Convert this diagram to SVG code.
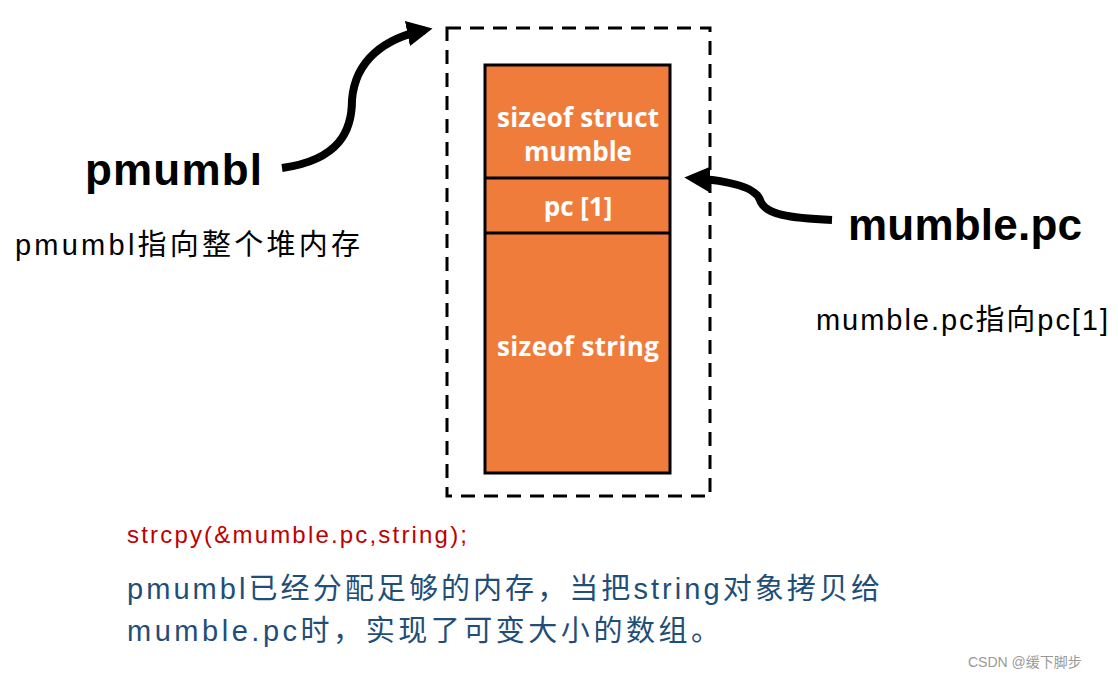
<svg xmlns="http://www.w3.org/2000/svg" width="1118" height="678" viewBox="0 0 1118 678">
<style>
.big{font-family:"Liberation Sans",Arial,sans-serif;font-weight:bold;font-size:44px;fill:#000}
.cell{font-family:"Open Sans","Liberation Sans",sans-serif;font-weight:bold;font-size:26px;fill:#fff;text-anchor:middle}
.cap{font-family:"Liberation Sans","Noto Sans CJK SC",sans-serif;font-size:29px;fill:#000}
.blue{font-family:"Liberation Sans","Noto Sans CJK SC",sans-serif;font-size:29px;fill:#1f4e79}
</style>
<defs><marker id="ah" viewBox="0 0 10 10" refX="7" refY="5" markerWidth="3.2" markerHeight="3.2" orient="auto" markerUnits="strokeWidth"><path d="M0,0L10,5L0,10z" fill="#000"/></marker></defs>
<rect width="1118" height="678" fill="#fff"/>
<g id="frame"><rect x="447" y="28" width="263" height="468" fill="none" stroke="#000" stroke-width="3" stroke-dasharray="14,9"/></g>
<g id="mem">
<rect x="485" y="65" width="185" height="408" fill="#f07c3c" stroke="#000" stroke-width="3"/>
<line x1="485" y1="178" x2="670" y2="178" stroke="#000" stroke-width="3"/>
<line x1="485" y1="233" x2="670" y2="233" stroke="#000" stroke-width="3"/>
<text class="cell" x="578" y="127" textLength="162">sizeof struct</text>
<text class="cell" x="578" y="161">mumble</text>
<text class="cell" x="578" y="216">pc [1]</text>
<text class="cell" x="578" y="356" textLength="162">sizeof string</text>
</g>
<g id="pmumbl"><text class="big" x="85" y="185" textLength="177">pmumbl</text><text class="cap" x="15" y="255" textLength="345">pmumbl指向整个堆内存</text></g>
<g id="mumblepc"><text class="big" x="848" y="240" textLength="234">mumble.pc</text><text class="cap" x="816" y="330" textLength="292">mumble.pc指向pc[1]</text></g>
<g id="connectors" fill="none" stroke="#000" stroke-width="8">
<path d="M282,168 C340,160 352,130 352,100 C355,60 385,38 425,30" marker-end="url(#ah)"/>
<path d="M832,220 C790,218 765,215 760,200 C755,185 720,180 692,178" marker-end="url(#ah)"/>
</g>
<g id="notes">
<text x="127" y="543" textLength="340" style="font-family:'Liberation Sans',sans-serif;font-size:24px;fill:#c00000">strcpy(&amp;mumble.pc,string);</text>
<text class="blue" x="127" y="599" textLength="753">pmumbl已经分配足够的内存，当把string对象拷贝给</text>
<text class="blue" x="127" y="641" textLength="593">mumble.pc时，实现了可变大小的数组。</text>
<text x="968" y="667" style="font-family:'Liberation Sans','Noto Sans CJK SC',sans-serif;font-size:14px;fill:#999">CSDN @缓下脚步</text>
</g>
</svg>
